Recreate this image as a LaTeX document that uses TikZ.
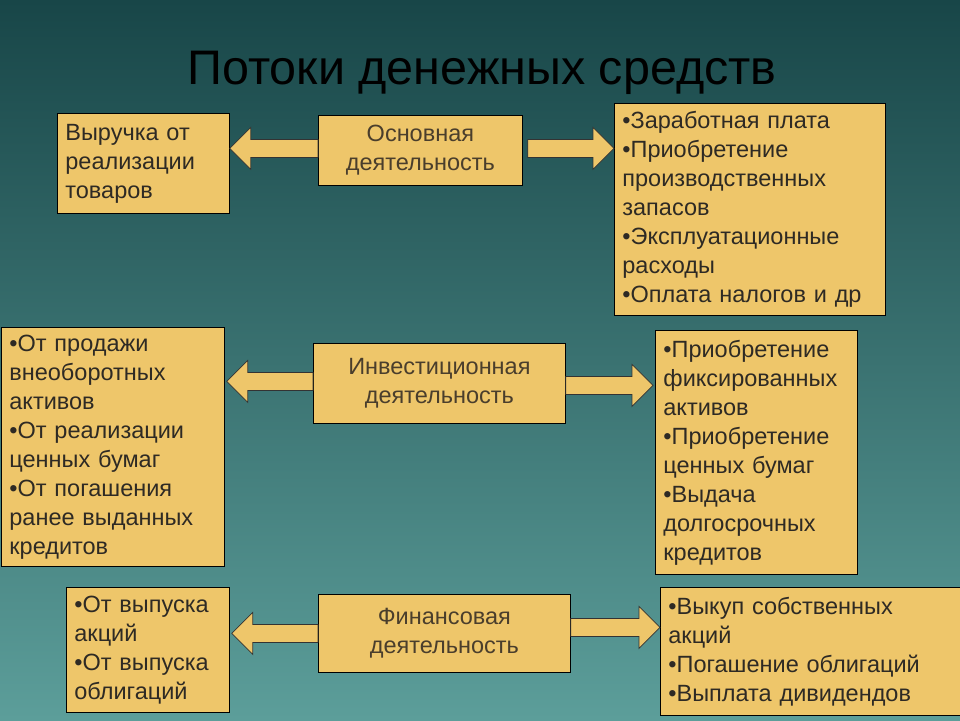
\documentclass[tikz,border=0pt]{standalone}
\usepackage{fontspec}
\setmainfont{Liberation Sans}
\usetikzlibrary{calc}
\definecolor{boxfill}{HTML}{EEC66A}
\definecolor{boxtext}{HTML}{4A3E2C}
\definecolor{sidetext}{HTML}{2E2A24}
\tikzset{
  flowbox/.style={draw=black, line width=0.8pt, fill=boxfill, anchor=north west,
    inner xsep=8pt, inner ysep=3pt, align=left, text=sidetext,
    font=\fontsize{23.5}{29}\selectfont},
  actbox/.style={flowbox, align=center, text=boxtext},
  arr/.style={draw=black!80, line width=0.7pt, fill=boxfill}
}
% block arrow from #1 horizontally to the x of #2
\newcommand\flowarrow[2]{%
  \path[arr] let \p1=(#1), \p2=(#2), \n1={ifthenelse(\x2>\x1,1,-1)} in
    (\x1,\y1+9) -- (\x2-\n1*21,\y1+9) -- (\x2-\n1*21,\y1+21) -- (\x2,\y1)
    -- (\x2-\n1*21,\y1-21) -- (\x2-\n1*21,\y1-9) -- (\x1,\y1-9) -- cycle;}
\begin{document}
\begin{tikzpicture}[x=1pt,y=-1pt]
\shade[top color={rgb,255:red,24;green,70;blue,72}, bottom color={rgb,255:red,92;green,158;blue,154}]
  (0,0) rectangle (960,720);
\useasboundingbox (0,0) rectangle (960,720);
\node[text=black, font=\fontsize{48.5}{52}\selectfont] (title) at (482,73) {Потоки денежных средств};
% top row
\node[flowbox, minimum width=172, minimum height=100, text width=156] (salesin) at (57,113)
  {Выручка от\\реализации\\товаров};
\node[actbox, minimum width=204, minimum height=70, text width=188] (mainact) at (318,115)
  {Основная\\деятельность};
\node[flowbox, minimum width=271, minimum height=212, text width=255] (mainout) at (614,103)
  {•Заработная плата\\•Приобретение\\производственных\\запасов\\•Эксплуатационные\\расходы\\•Оплата налогов и др};
% middle row
\node[flowbox, minimum width=223, minimum height=239, text width=207] (investin) at (1,327)
  {•От продажи\\внеоборотных\\активов\\•От реализации\\ценных бумаг\\•От погашения\\ранее выданных\\кредитов};
\node[actbox, minimum width=252, minimum height=80, text width=236] (investact) at (313,343)
  {Инвестиционная\\деятельность};
\node[flowbox, minimum width=202, minimum height=244, text width=186] (investout) at (655,330)
  {•Приобретение\\фиксированных\\активов\\•Приобретение\\ценных бумаг\\•Выдача\\долгосрочных\\кредитов};
% bottom row
\node[flowbox, minimum width=163, minimum height=125, text width=147] (financein) at (66,587)
  {•От выпуска\\акций\\•От выпуска\\облигаций};
\node[actbox, minimum width=252, minimum height=78, text width=236] (financeact) at (318,594)
  {Финансовая\\деятельность};
\node[flowbox, minimum width=302, minimum height=128, text width=286] (financeout) at (660,587)
  {•Выкуп собственных\\акций\\•Погашение облигаций\\•Выплата дивидендов};
% arrows
\flowarrow{$(mainact.west)+(0,-2)$}{salesin.east}
\flowarrow{$(mainact.east)+(5,-2)$}{mainout.west}
\flowarrow{$(investact.west)+(0,-2)$}{$(investin.east)+(2,0)$}
\flowarrow{$(investact.east)+(0,2)$}{$(investout.west)+(-2,0)$}
\flowarrow{$(financeact.west)+(0,0)$}{$(financein.east)+(2,0)$}
\flowarrow{$(financeact.east)+(0,-6)$}{financeout.west}
\end{tikzpicture}
\end{document}
